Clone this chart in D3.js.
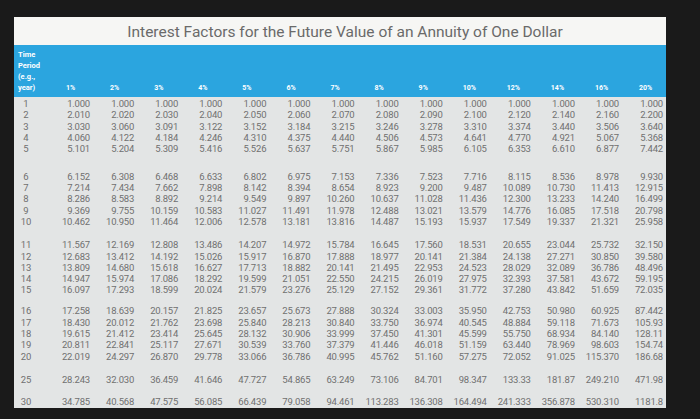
<!DOCTYPE html>
<html lang="en">
<head>
<meta charset="UTF-8">
<title>Interest Factors for the Future Value of an Annuity of One Dollar</title>
<script src="https://cdn.jsdelivr.net/npm/d3@7"></script>
<style>
  body { margin: 0; background: #1a1a1a; }
  text { font-family: Roboto, "Liberation Sans", sans-serif; }
</style>
</head>
<body>
<svg width="700" height="419"></svg>
<script>
const rates = ['1%','2%','3%','4%','5%','6%','7%','8%','9%','10%','12%','14%','16%','20%'];
const periods = [1,2,3,4,5,6,7,8,9,10,11,12,13,14,15,16,17,18,19,20,25,30];
const values = [
  ['1.000','1.000','1.000','1.000','1.000','1.000','1.000','1.000','1.000','1.000','1.000','1.000','1.000','1.000'],
  ['2.010','2.020','2.030','2.040','2.050','2.060','2.070','2.080','2.090','2.100','2.120','2.140','2.160','2.200'],
  ['3.030','3.060','3.091','3.122','3.152','3.184','3.215','3.246','3.278','3.310','3.374','3.440','3.506','3.640'],
  ['4.060','4.122','4.184','4.246','4.310','4.375','4.440','4.506','4.573','4.641','4.770','4.921','5.067','5.368'],
  ['5.101','5.204','5.309','5.416','5.526','5.637','5.751','5.867','5.985','6.105','6.353','6.610','6.877','7.442'],
  ['6.152','6.308','6.468','6.633','6.802','6.975','7.153','7.336','7.523','7.716','8.115','8.536','8.978','9.930'],
  ['7.214','7.434','7.662','7.898','8.142','8.394','8.654','8.923','9.200','9.487','10.089','10.730','11.413','12.915'],
  ['8.286','8.583','8.892','9.214','9.549','9.897','10.260','10.637','11.028','11.436','12.300','13.233','14.240','16.499'],
  ['9.369','9.755','10.159','10.583','11.027','11.491','11.978','12.488','13.021','13.579','14.776','16.085','17.518','20.798'],
  ['10.462','10.950','11.464','12.006','12.578','13.181','13.816','14.487','15.193','15.937','17.549','19.337','21.321','25.958'],
  ['11.567','12.169','12.808','13.486','14.207','14.972','15.784','16.645','17.560','18.531','20.655','23.044','25.732','32.150'],
  ['12.683','13.412','14.192','15.026','15.917','16.870','17.888','18.977','20.141','21.384','24.138','27.271','30.850','39.580'],
  ['13.809','14.680','15.618','16.627','17.713','18.882','20.141','21.495','22.953','24.523','28.029','32.089','36.786','48.496'],
  ['14.947','15.974','17.086','18.292','19.599','21.051','22.550','24.215','26.019','27.975','32.393','37.581','43.672','59.195'],
  ['16.097','17.293','18.599','20.024','21.579','23.276','25.129','27.152','29.361','31.772','37.280','43.842','51.659','72.035'],
  ['17.258','18.639','20.157','21.825','23.657','25.673','27.888','30.324','33.003','35.950','42.753','50.980','60.925','87.442'],
  ['18.430','20.012','21.762','23.698','25.840','28.213','30.840','33.750','36.974','40.545','48.884','59.118','71.673','105.93'],
  ['19.615','21.412','23.414','25.645','28.132','30.906','33.999','37.450','41.301','45.599','55.750','68.934','84.140','128.11'],
  ['20.811','22.841','25.117','27.671','30.539','33.760','37.379','41.446','46.018','51.159','63.440','78.969','98.603','154.74'],
  ['22.019','24.297','26.870','29.778','33.066','36.786','40.995','45.762','51.160','57.275','72.052','91.025','115.370','186.68'],
  ['28.243','32.030','36.459','41.646','47.727','54.865','63.249','73.106','84.701','98.347','133.33','181.87','249.210','471.98'],
  ['34.785','40.568','47.575','56.085','66.439','79.058','94.461','113.283','136.308','164.494','241.333','356.878','530.310','1181.8']
];
const headerLines = ['Time','Period','(e.g.,','year)'];

const svg = d3.select('svg');
const panel = { x: 14, y: 17, w: 652, h: 391 };

svg.append('rect').attr('x', panel.x).attr('y', panel.y).attr('width', panel.w).attr('height', panel.h).attr('fill', '#e3e5e5');
svg.append('rect').attr('x', panel.x).attr('y', panel.y).attr('width', panel.w).attr('height', 28).attr('fill', '#f6f6f4');
svg.append('rect').attr('x', panel.x).attr('y', 45).attr('width', panel.w).attr('height', 52).attr('fill', '#2ba5df');

svg.append('text')
  .attr('x', 345).attr('y', 37)
  .attr('text-anchor', 'middle')
  .attr('font-size', 15.5)
  .attr('fill', '#6a6a6a')
  .text('Interest Factors for the Future Value of an Annuity of One Dollar');

svg.selectAll('.hl').data(headerLines).enter().append('text')
  .attr('x', 18).attr('y', (d, i) => 57 + i * 11)
  .attr('font-size', 7.5).attr('font-weight', 'bold').attr('fill', '#fff')
  .text(d => d);

// right edges of value columns
const xScale = d3.scalePoint().domain(rates).range([90, 663]);

svg.selectAll('.rh').data(rates).enter().append('text')
  .attr('x', r => xScale(r) - 24).attr('y', 90)
  .attr('font-size', 7).attr('font-weight', 'bold').attr('fill', '#fff')
  .text(r => r);

// rows: index with extra gaps between groups
function rowIndex(i) {
  let gap = 0;
  if (i >= 5) gap += 1.45;
  if (i >= 10) gap += 1.05;
  if (i >= 15) gap += 0.85;
  if (i >= 20) gap += 1.05;
  if (i >= 21) gap += 0.95;
  return i + gap;
}
const yScale = d3.scaleLinear().domain([0, 1]).range([107, 118.3]);

const rows = svg.selectAll('.row').data(periods).enter().append('g')
  .attr('transform', (d, i) => `translate(0, ${yScale(rowIndex(i))})`);

rows.append('text')
  .attr('x', 26).attr('text-anchor', 'middle')
  .attr('font-size', 9.5).attr('fill', '#707070')
  .text(d => d);

rows.selectAll('.v').data((d, i) => values[i].map((v, j) => ({ v, r: rates[j] })))
  .enter().append('text')
  .attr('x', d => xScale(d.r)).attr('text-anchor', 'end')
  .attr('font-size', 9.5).attr('letter-spacing', -0.2).attr('fill', '#707070')
  .text(d => d.v);
</script>
</body>
</html>
